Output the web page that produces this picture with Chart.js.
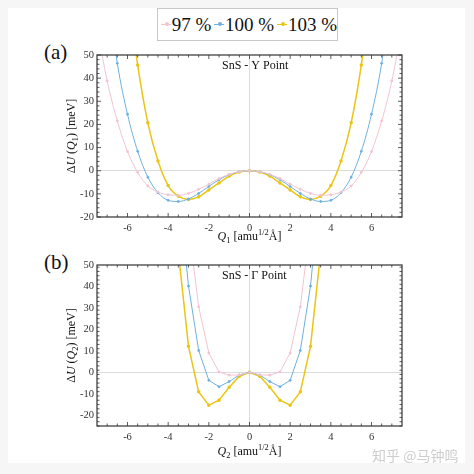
<!DOCTYPE html>
<html>
<head>
<meta charset="utf-8">
<script src="https://cdn.jsdelivr.net/npm/chart.js@4.4.1/dist/chart.umd.min.js"></script>
<style>
  body { margin: 0; background: #f6f6f6; width: 474px; height: 474px; overflow: hidden; }
  .card { position: absolute; left: 8px; top: 8px; width: 457px; height: 455px; background: #fff; }
  .wrap { position: absolute; left: 0; width: 474px; }
  .legend {
    position: absolute; left: 157px; top: 8px; width: 181px; height: 33px;
    border: 1px solid #c8c8c8; background: #fff; box-sizing: border-box;
    font-family: 'Liberation Serif', serif; font-size: 19px; color: #111;
    display: flex; align-items: center; justify-content: center; white-space: nowrap;
  }
  .legend span.mk { display: inline-block; width: 11px; height: 1.5px; position: relative; margin: 0 1px 0 3px; }
  .legend span.mk::after { content: ''; position: absolute; left: 3.5px; top: -1.5px; width: 4px; height: 4px; border-radius: 50%; background: inherit; }
  .panel { position: absolute; font-family: 'Liberation Serif', serif; font-size: 21px; color: #111; }
  .wm { position: absolute; left: 372px; top: 445px; font-family: 'Noto Sans CJK SC', sans-serif; font-size: 14px; color: #cdcdcd; }
</style>
</head>
<body>
<div class="card"></div>
<div class="legend">
  <span class="mk" style="background:#f2c4cf"></span>97 %
  <span class="mk" style="background:#6fb0e0"></span>100 %
  <span class="mk" style="background:#eac513"></span>103 %
</div>
<div class="panel" style="left:44px; top:40px;">(a)</div>
<div class="panel" style="left:44px; top:250px;">(b)</div>
<div class="wrap" style="top:40px; height:205px;"><canvas id="chartA"></canvas></div>
<div class="wrap" style="top:250px; height:210px;"><canvas id="chartB"></canvas></div>
<div class="wm">知乎 @马钟鸣</div>
<script>
// series names
const seriesNames = ['97 %', '100 %', '103 %'];
const seriesColors = ['#f2c4cf', '#6fb0e0', '#eac513'];

// (a) SnS - Y Point, Q1 coordinates and energies (meV)
const qA97 = [-7.5, -7, -6.5, -6, -5.5, -5, -4.5, -4, -3.5, -3, -2.5, -2, -1.5, -1, -0.5, 0,
              0.5, 1, 1.5, 2, 2.5, 3, 3.5, 4, 4.5, 5, 5.5, 6, 6.5, 7, 7.5];
const uA97 = [62, 38.8, 21.5, 8.3, -0.7, -6.6, -9.2, -10.4, -10.6, -9.8, -8.0, -5.8, -3.4, -1.6, -0.4, 0,
              -0.4, -1.6, -3.4, -5.8, -8.0, -9.8, -10.6, -10.4, -9.2, -6.6, -0.7, 8.3, 21.5, 38.8, 62];
const qA100 = [-7, -6.5, -6, -5.5, -5, -4.5, -4, -3.5, -3, -2.5, -2, -1.5, -1, -0.5, 0,
               0.5, 1, 1.5, 2, 2.5, 3, 3.5, 4, 4.5, 5, 5.5, 6, 6.5, 7];
const uA100 = [80, 46.4, 24.4, 8.4, -2.8, -9.5, -12.8, -13.3, -12.2, -9.8, -6.8, -3.9, -1.7, -0.4, 0,
               -0.4, -1.7, -3.9, -6.8, -9.8, -12.2, -13.3, -12.8, -9.5, -2.8, 8.4, 24.4, 46.4, 80];
const qA103 = [-6, -5.5, -5, -4.5, -4, -3.5, -3, -2.5, -2, -1.5, -1, -0.5, 0,
               0.5, 1, 1.5, 2, 2.5, 3, 3.5, 4, 4.5, 5, 5.5, 6];
const uA103 = [80, 45.7, 20.7, 4.2, -6.4, -11.0, -12.4, -11.3, -8.3, -5.3, -2.3, -0.6, 0,
               -0.6, -2.3, -5.3, -8.3, -11.3, -12.4, -11.0, -6.4, 4.2, 20.7, 45.7, 80];

// (b) SnS - Gamma Point, Q2 coordinates and energies (meV)
const qB97 = [-3, -2.5, -2, -1.5, -1, -0.5, 0, 0.5, 1, 1.5, 2, 2.5, 3];
const uB97 = [69, 30.6, 9.0, 0.2, -1.3, -1.2, 0, -1.2, -1.3, 0.2, 9.0, 30.6, 69];
const qB100 = [-3.5, -3, -2.5, -2, -1.5, -1, -0.5, 0, 0.5, 1, 1.5, 2, 2.5, 3, 3.5];
const uB100 = [89, 40.2, 10.2, -3.7, -6.7, -4.3, -1.2, 0, -1.2, -4.3, -6.7, -3.7, 10.2, 40.2, 89];
const qB103 = [-3.5, -3, -2.5, -2, -1.5, -1, -0.5, 0, 0.5, 1, 1.5, 2, 2.5, 3, 3.5];
const uB103 = [56, 12.1, -9.1, -15.3, -13.0, -7.0, -1.8, 0, -1.8, -7.0, -13.0, -15.3, -9.1, 12.1, 56];

const xTicks = [-6, -4, -2, 0, 2, 4, 6];
const yTicks = [-20, -10, 0, 10, 20, 30, 40, 50];

const serif = "'Liberation Serif', serif";

function pts(xs, ys) {
  return xs.map((x, i) => ({ x: x, y: ys[i] }));
}

function dataset(i, xs, ys, smooth) {
  return {
    label: seriesNames[i],
    data: pts(xs, ys),
    borderColor: seriesColors[i],
    backgroundColor: seriesColors[i],
    borderWidth: i === 2 ? 1.5 : 1,
    pointRadius: 1,
    pointHoverRadius: 1,
    cubicInterpolationMode: smooth ? 'monotone' : 'default',
    tension: 0,
  };
}

// draw a text run made of pieces: [text, italic, shift(sub/sup)]
function drawRuns(ctx, runs, x, y, size, align) {
  let total = 0;
  runs.forEach((r) => {
    const s = r[2] ? size * 0.7 : size;
    ctx.font = (r[1] ? 'italic ' : '') + s + 'px ' + serif;
    total += ctx.measureText(r[0]).width;
  });
  let cx = align === 'center' ? x - total / 2 : x;
  ctx.textAlign = 'left';
  ctx.textBaseline = 'alphabetic';
  runs.forEach((r) => {
    const s = r[2] ? size * 0.7 : size;
    ctx.font = (r[1] ? 'italic ' : '') + s + 'px ' + serif;
    ctx.fillText(r[0], cx, y + (r[2] || 0));
    cx += ctx.measureText(r[0]).width;
  });
}

function framePlugin(label, sub) {
  return {
    id: 'frame' + sub,
    afterDraw(chart) {
      const ctx = chart.ctx;
      const a = chart.chartArea;
      const xs = chart.scales.x;
      const ys = chart.scales.y;
      ctx.save();
      ctx.strokeStyle = '#333';
      ctx.lineWidth = 1.2;
      ctx.strokeRect(a.left, a.top, a.right - a.left, a.bottom - a.top);
      ctx.lineWidth = 0.8;
      ctx.beginPath();
      for (let v = -7; v <= 7.01; v += 0.5) {
        const px = xs.getPixelForValue(v);
        const len = Math.abs(v % 2) < 0.01 ? 4 : 2.5;
        ctx.moveTo(px, a.bottom); ctx.lineTo(px, a.bottom - len);
        ctx.moveTo(px, a.top); ctx.lineTo(px, a.top + len);
      }
      for (let v = ys.min; v <= ys.max; v += 2) {
        const py = ys.getPixelForValue(v);
        const len = Math.abs(v % 10) < 0.01 ? 4 : 2.5;
        ctx.moveTo(a.left, py); ctx.lineTo(a.left + len, py);
        ctx.moveTo(a.right, py); ctx.lineTo(a.right - len, py);
      }
      ctx.stroke();

      ctx.fillStyle = '#111';
      // inner label
      ctx.font = '12px ' + serif;
      ctx.textAlign = 'left';
      ctx.fillText(label, a.left + 125, a.top + 14);

      // x title
      drawRuns(ctx, [['Q', true], [sub, false, 3], [' [amu', false], ['1/2', false, -5], ['Å]', false]],
        xs.getPixelForValue(0), chart.height - 5, 12, 'center');
      // y title
      ctx.translate(a.left - 22, (a.top + a.bottom) / 2);
      ctx.rotate(-Math.PI / 2);
      drawRuns(ctx, [['Δ', false], ['U', true], [' (', false], ['Q', true], [sub, false, 3], [') [meV]', false]],
        0, 0, 12, 'center');
      ctx.restore();
    },
  };
}

function makeChart(id, sets, yMin, label, sub, xHeight) {
  const ctx = document.getElementById(id).getContext('2d');
  return new Chart(ctx, {
    type: 'line',
    data: { datasets: sets },
    options: {
      responsive: true,
      maintainAspectRatio: false,
      animation: false,
      events: [],
      layout: { padding: { left: 0, right: 72, top: 15, bottom: 0 } },
      plugins: { legend: { display: false }, tooltip: { enabled: false } },
      scales: {
        x: {
          type: 'linear',
          min: -7.5,
          max: 7.5,
          afterBuildTicks: (s) => { s.ticks = xTicks.map((v) => ({ value: v })); },
          afterFit: (s) => { s.height = xHeight; },
          border: { display: false },
          grid: {
            drawTicks: false,
            color: (c) => (c.tick && c.tick.value === 0 ? '#dcdcdc' : 'rgba(0,0,0,0)'),
          },
          ticks: { padding: 5, font: { family: serif, size: 10.5 }, color: '#333' },
        },
        y: {
          type: 'linear',
          min: yMin,
          max: 50,
          afterBuildTicks: (s) => { s.ticks = yTicks.map((v) => ({ value: v })); },
          afterFit: (s) => { s.width = 97; },
          border: { display: false },
          grid: {
            drawTicks: false,
            color: (c) => (c.tick && c.tick.value === 0 ? '#dcdcdc' : 'rgba(0,0,0,0)'),
          },
          ticks: { padding: 3, font: { family: serif, size: 10.5 }, color: '#333' },
        },
      },
    },
    plugins: [framePlugin(label, sub)],
  });
}

makeChart('chartA', [
  dataset(0, qA97, uA97, true),
  dataset(1, qA100, uA100, true),
  dataset(2, qA103, uA103, true),
], -20, 'SnS - Y Point', '1', 28);

makeChart('chartB', [
  dataset(0, qB97, uB97, false),
  dataset(1, qB100, uB100, false),
  dataset(2, qB103, uB103, false),
], -25, 'SnS - Γ Point', '2', 34);
</script>
</body>
</html>
